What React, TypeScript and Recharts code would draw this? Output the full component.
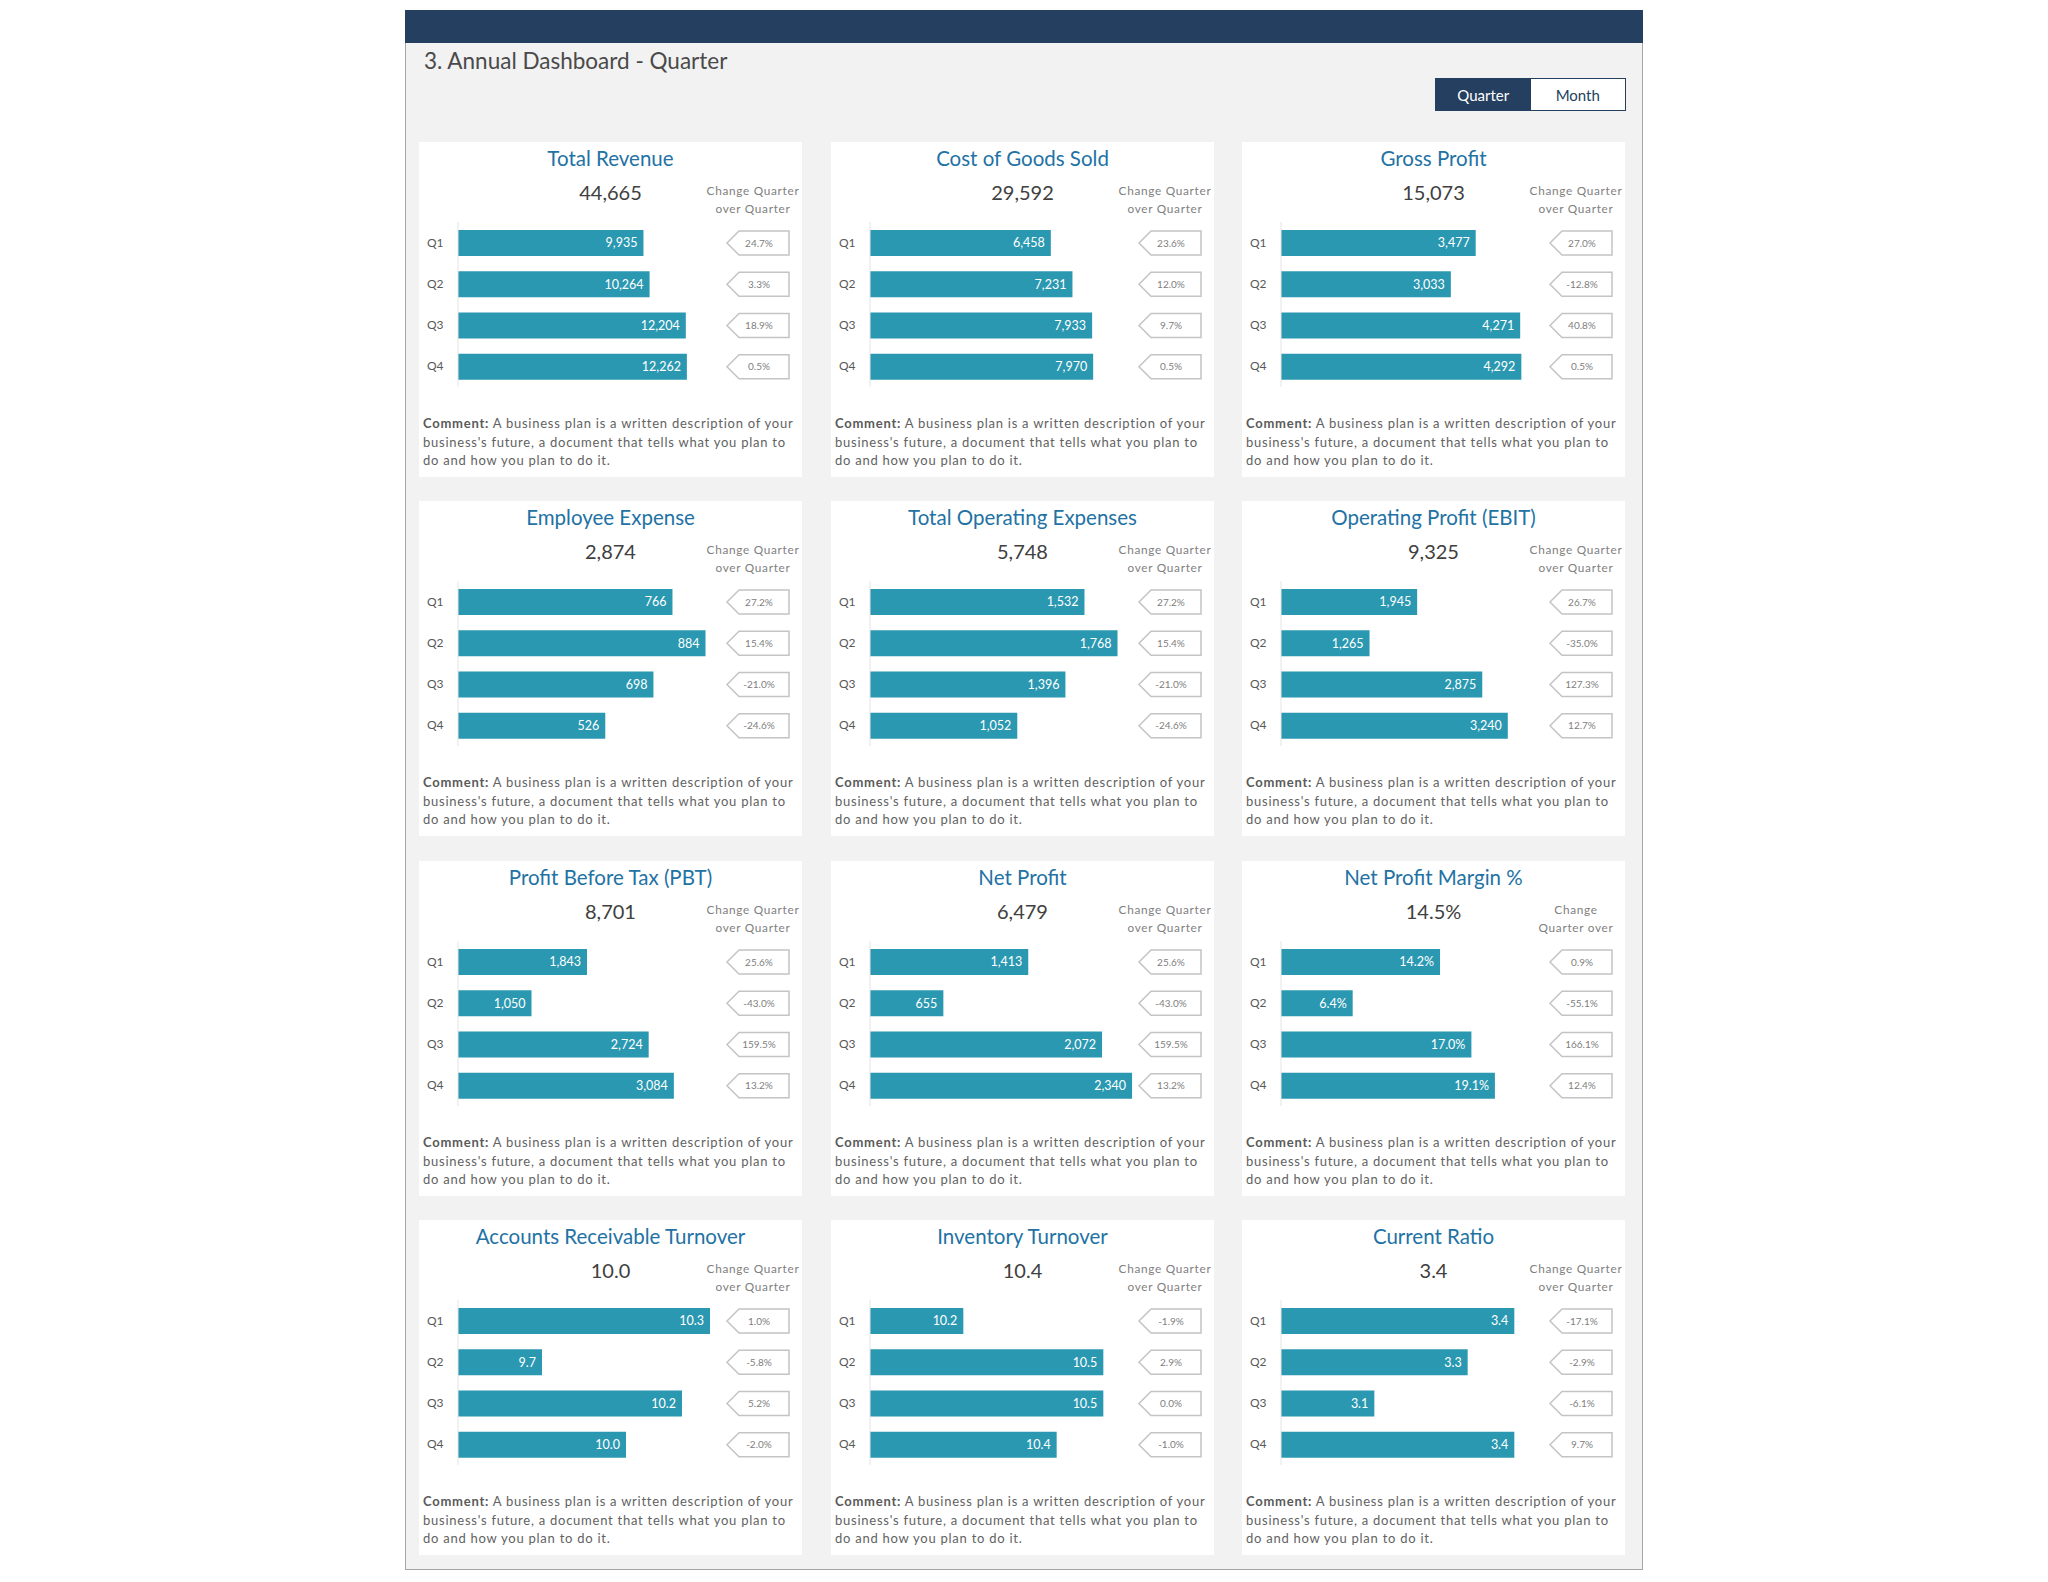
import { BarChart, Bar, XAxis, YAxis, LabelList } from 'recharts'

const QUARTERS = ['Q1', 'Q2', 'Q3', 'Q4']

const REVENUE = [9935, 10264, 12204, 12262]
const REVENUE_CHG = [24.7, 3.3, 18.9, 0.5]
const COGS = [6458, 7231, 7933, 7970]
const COGS_CHG = [23.6, 12.0, 9.7, 0.5]
const GROSS = [3477, 3033, 4271, 4292]
const GROSS_CHG = [27.0, -12.8, 40.8, 0.5]
const EMPLOYEE = [766, 884, 698, 526]
const EMPLOYEE_CHG = [27.2, 15.4, -21.0, -24.6]
const OPEX = [1532, 1768, 1396, 1052]
const OPEX_CHG = [27.2, 15.4, -21.0, -24.6]
const EBIT = [1945, 1265, 2875, 3240]
const EBIT_CHG = [26.7, -35.0, 127.3, 12.7]
const PBT = [1843, 1050, 2724, 3084]
const PBT_CHG = [25.6, -43.0, 159.5, 13.2]
const NET = [1413, 655, 2072, 2340]
const NET_CHG = [25.6, -43.0, 159.5, 13.2]
const MARGIN = [14.2, 6.4, 17.0, 19.1]
const MARGIN_CHG = [0.9, -55.1, 166.1, 12.4]
const AR_TURN = [10.3, 9.7, 10.2, 10.0]
const AR_TURN_CHG = [1.0, -5.8, 5.2, -2.0]
const INV_TURN = [10.2, 10.5, 10.5, 10.4]
const INV_TURN_CHG = [-1.9, 2.9, 0.0, -1.0]
const CUR_RATIO = [3.4, 3.3, 3.1, 3.4]
const CUR_RATIO_CHG = [-17.1, -2.9, -6.1, 9.7]

const fmtInt = (v: number) => v.toLocaleString('en-US')
const fmtPct = (v: number) => `${v.toFixed(1)}%`
const fmtDec = (v: number) => v.toFixed(1)

const CHANGE_STD = ['Change Quarter', 'over Quarter']

type Panel = {
  title: string; total: string; values: number[]; chg: number[]
  domain: [number, number]; fmt: (v: number) => string; change: string[]
}

const PANELS: Panel[] = [
  { title: 'Total Revenue', total: '44,665', values: REVENUE, chg: REVENUE_CHG, domain: [0, 15000], fmt: fmtInt, change: CHANGE_STD },
  { title: 'Cost of Goods Sold', total: '29,592', values: COGS, chg: COGS_CHG, domain: [0, 10000], fmt: fmtInt, change: CHANGE_STD },
  { title: 'Gross Profit', total: '15,073', values: GROSS, chg: GROSS_CHG, domain: [0, 5000], fmt: fmtInt, change: CHANGE_STD },
  { title: 'Employee Expense', total: '2,874', values: EMPLOYEE, chg: EMPLOYEE_CHG, domain: [0, 1000], fmt: fmtInt, change: CHANGE_STD },
  { title: 'Total Operating Expenses', total: '5,748', values: OPEX, chg: OPEX_CHG, domain: [0, 2000], fmt: fmtInt, change: CHANGE_STD },
  { title: 'Operating Profit (EBIT)', total: '9,325', values: EBIT, chg: EBIT_CHG, domain: [0, 4000], fmt: fmtInt, change: CHANGE_STD },
  { title: 'Profit Before Tax (PBT)', total: '8,701', values: PBT, chg: PBT_CHG, domain: [0, 4000], fmt: fmtInt, change: CHANGE_STD },
  { title: 'Net Profit', total: '6,479', values: NET, chg: NET_CHG, domain: [0, 2500], fmt: fmtInt, change: CHANGE_STD },
  { title: 'Net Profit Margin %', total: '14.5%', values: MARGIN, chg: MARGIN_CHG, domain: [0, 25], fmt: fmtPct, change: ['Change', 'Quarter over'] },
  { title: 'Accounts Receivable Turnover', total: '10.0', values: AR_TURN, chg: AR_TURN_CHG, domain: [9.4, 10.4], fmt: fmtDec, change: CHANGE_STD },
  { title: 'Inventory Turnover', total: '10.4', values: INV_TURN, chg: INV_TURN_CHG, domain: [10.0, 10.6], fmt: fmtDec, change: CHANGE_STD },
  { title: 'Current Ratio', total: '3.4', values: CUR_RATIO, chg: CUR_RATIO_CHG, domain: [2.9, 3.5], fmt: fmtDec, change: CHANGE_STD },
]

const NAVY = '#243f60'
const BAR = '#2b98b1'
const TITLE = '#2272a4'
const INK = '#404040'
const FONT = 'Lato, "Open Sans", sans-serif'

const COL_X = [419, 831, 1242]
const ROW_Y = [142, 501, 861, 1220]
const PANEL_W = 383
const PANEL_H = 335

function QTick(p: any) {
  return (
    <text x={8} y={p.y} dy={4} fill="#595959" fontSize={12} fontFamily={FONT}>
      {p.payload.value}
    </text>
  )
}

function Badge(props: any) {
  const vb = props.viewBox || {}
  const y = props.y ?? vb.y
  const h = props.height ?? vb.height
  const cy = y + h / 2
  const half = 12
  const d = `M308,${cy} L320,${cy - half} L370,${cy - half} L370,${cy + half} L320,${cy + half} Z`
  return (
    <g>
      <path d={d} fill="#fff" stroke="#c4c4c4" strokeWidth={1.5} />
      <text x={340} y={cy} dy={3.5} textAnchor="middle" fill="#808080" fontSize={10} fontFamily={FONT}>
        {fmtPct(props.value)}
      </text>
    </g>
  )
}

function KpiPanel({ p, left, top }: { p: Panel; left: number; top: number }) {
  const rows = QUARTERS.map((q, i) => ({ q, v: p.values[i], chg: p.chg[i] }))
  return (
    <div style={{ position: 'absolute', left, top, width: PANEL_W, height: PANEL_H, background: '#fff', fontFamily: FONT }}>
      <div style={{ position: 'absolute', top: 4, width: '100%', textAlign: 'center', fontSize: 20.5, lineHeight: '25px', color: TITLE }}>
        {p.title}
      </div>
      <div style={{ position: 'absolute', top: 38, width: '100%', textAlign: 'center', fontSize: 20, lineHeight: '24px', color: INK }}>
        {p.title === '' ? null : p.total}
      </div>
      <div style={{
        position: 'absolute', left: 279, top: 40, width: 110, textAlign: 'center',
        fontSize: 11.8, lineHeight: '17.5px', color: '#808080', letterSpacing: 0.7,
      }}>
        {p.change[0]}<br />{p.change[1]}
      </div>
      <div style={{ position: 'absolute', left: 0, top: 0 }}>
        <BarChart width={PANEL_W} height={260} data={rows} layout="vertical" margin={{ top: 80, right: 64, bottom: 15, left: 0 }}>
          <XAxis type="number" hide domain={p.domain} allowDataOverflow />
          <YAxis type="category" dataKey="q" width={39} tick={<QTick />} tickLine={false} axisLine={{ stroke: '#e4e4e4' }} />
          <Bar dataKey="v" fill={BAR} barSize={26} isAnimationActive={false}>
            <LabelList dataKey="v" position="insideRight" offset={6} fill="#fff" fontSize={12.5} fontFamily={FONT} formatter={(v: any) => p.fmt(Number(v))} />
            <LabelList dataKey="chg" content={<Badge />} />
          </Bar>
        </BarChart>
      </div>
      <div style={{
        position: 'absolute', left: 4, top: 272, fontSize: 13, lineHeight: '18.7px',
        color: '#626262', letterSpacing: 0.75, whiteSpace: 'nowrap',
      }}>
        <b style={{ fontWeight: 700, color: '#5a5a5a' }}>Comment:</b>&nbsp;A business plan is a written description of your<br />
        business's future, a document that tells what you plan to<br />
        do and how you plan to do it.
      </div>
    </div>
  )
}

export default function App() {
  return (
    <div style={{ position: 'absolute', left: 0, top: 0, width: 2048, height: 1582, background: '#fff', fontFamily: FONT }}>
      <div style={{ position: 'absolute', left: 405, top: 10, width: 1236, height: 1558, background: '#f2f2f2', border: '1px solid #a6a6a6' }} />
      <div style={{ position: 'absolute', left: 405, top: 10, width: 1238, height: 33, background: NAVY }} />
      <div style={{ position: 'absolute', left: 424, top: 47, fontSize: 22.5, lineHeight: '28px', color: '#4a4a4a' }}>
        3. Annual Dashboard - Quarter
      </div>
      <div style={{ position: 'absolute', left: 1435, top: 78, width: 191, height: 33, display: 'flex', border: `1.5px solid ${NAVY}`, boxSizing: 'border-box', fontSize: 15 }}>
        <div style={{ flex: 1, background: NAVY, color: '#fff', display: 'flex', alignItems: 'center', justifyContent: 'center' }}>Quarter</div>
        <div style={{ flex: 1, background: '#fff', color: NAVY, display: 'flex', alignItems: 'center', justifyContent: 'center' }}>Month</div>
      </div>
      {PANELS.map((p, i) => (
        <KpiPanel key={p.title} p={p} left={COL_X[i % 3]} top={ROW_Y[Math.floor(i / 3)]} />
      ))}
    </div>
  )
}
